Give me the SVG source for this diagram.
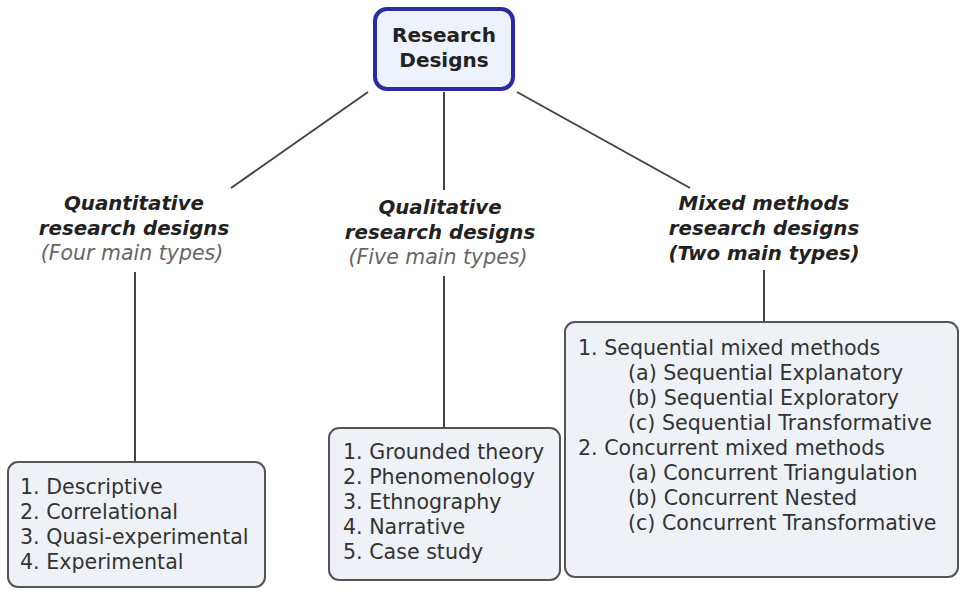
<svg xmlns="http://www.w3.org/2000/svg" width="960" height="592" viewBox="0 0 960 592">
<style>
text{font-family:"DejaVu Sans",Verdana,sans-serif;fill:#333}
.root{font-size:20px;font-weight:bold;fill:#222}
.hd{font-size:19.8px;font-weight:bold;font-style:italic;fill:#222}
.sub{font-size:20.5px;font-style:italic;fill:#666}
.it{font-size:20.6px;fill:#333}
.box{fill:#eef2f7;stroke:#555;stroke-width:2}
.ln{stroke:#444;stroke-width:2;fill:none}
</style>
<rect width="960" height="592" fill="#fff"/>
<g id="connectors">
<line class="ln" x1="368" y1="92" x2="231" y2="188"/>
<line class="ln" x1="444" y1="92" x2="444" y2="190"/>
<line class="ln" x1="517" y1="92" x2="690" y2="188"/>
<line class="ln" x1="135" y1="272" x2="135" y2="462"/>
<line class="ln" x1="444" y1="276" x2="444" y2="428"/>
<line class="ln" x1="764" y1="270" x2="764" y2="322"/>
</g>
<g id="root">
<rect x="375" y="9" width="138" height="80" rx="12" fill="#eef2fa" stroke="#2b2ba3" stroke-width="4"/>
<text class="root" x="444" y="42" text-anchor="middle">Research</text>
<text class="root" x="444" y="67" text-anchor="middle">Designs</text>
</g>
<g id="quant">
<text class="hd" x="134" y="210" text-anchor="middle">Quantitative</text>
<text class="hd" x="134" y="235" text-anchor="middle">research designs</text>
<text class="sub" x="132" y="260" text-anchor="middle">(Four main types)</text>
</g>
<g id="qual">
<text class="hd" x="440" y="214" text-anchor="middle">Qualitative</text>
<text class="hd" x="440" y="239" text-anchor="middle">research designs</text>
<text class="sub" x="438" y="264" text-anchor="middle">(Five main types)</text>
</g>
<g id="mixed">
<text class="hd" x="764" y="210" text-anchor="middle">Mixed methods</text>
<text class="hd" x="764" y="235" text-anchor="middle">research designs</text>
<text class="hd" x="764" y="260" text-anchor="middle">(Two main types)</text>
</g>
<g id="quant-list">
<rect class="box" x="8" y="462" width="257" height="125" rx="10"/>
<text class="it" x="20" y="494">1. Descriptive</text>
<text class="it" x="20" y="519">2. Correlational</text>
<text class="it" x="20" y="544">3. Quasi-experimental</text>
<text class="it" x="20" y="569">4. Experimental</text>
</g>
<g id="qual-list">
<rect class="box" x="329" y="428" width="231" height="152" rx="10"/>
<text class="it" x="343" y="459">1. Grounded theory</text>
<text class="it" x="343" y="484">2. Phenomenology</text>
<text class="it" x="343" y="509">3. Ethnography</text>
<text class="it" x="343" y="534">4. Narrative</text>
<text class="it" x="343" y="559">5. Case study</text>
</g>
<g id="mixed-list">
<rect class="box" x="565" y="322" width="393" height="255" rx="10"/>
<text class="it" x="578" y="355">1. Sequential mixed methods</text>
<text class="it" x="628" y="380">(a) Sequential Explanatory</text>
<text class="it" x="628" y="405">(b) Sequential Exploratory</text>
<text class="it" x="628" y="430">(c) Sequential Transformative</text>
<text class="it" x="578" y="455">2. Concurrent mixed methods</text>
<text class="it" x="628" y="480">(a) Concurrent Triangulation</text>
<text class="it" x="628" y="505">(b) Concurrent Nested</text>
<text class="it" x="628" y="530">(c) Concurrent Transformative</text>
</g>
</svg>
